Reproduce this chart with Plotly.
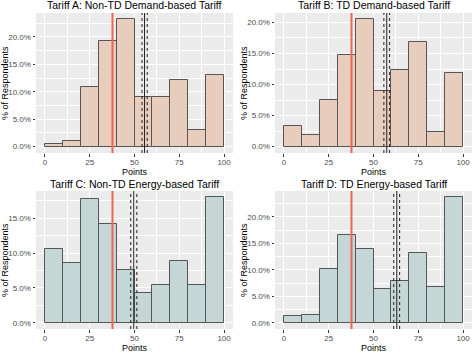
import plotly.graph_objects as go

bin_centers = [5, 15, 25, 35, 45, 55, 65, 75, 85, 95]
titles = ["Tariff A: Non-TD Demand-based Tariff", "Tariff B: TD Demand-based Tariff",
          "Tariff C: Non-TD Energy-based Tariff", "Tariff D: TD Energy-based Tariff"]
pct_a = [0.5, 0.95, 10.8, 19.3, 23.2, 9.1, 9.0, 12.2, 3.0, 13.0]
pct_b = [3.3, 1.8, 7.5, 14.8, 20.5, 9.0, 12.3, 16.9, 2.35, 11.9]
pct_c = [10.6, 8.5, 17.8, 14.2, 7.5, 4.2, 5.4, 8.85, 5.4, 18.0]
pct_d = [1.3, 1.5, 10.2, 16.5, 14.0, 6.4, 7.8, 13.1, 6.8, 23.7]
red_line = [37.7, 37.7, 37.7, 37.7]
mean_line = [55.6, 57.4, 49.6, 63.0]
ci_low = [54.2, 55.8, 47.9, 61.3]
ci_high = [57.1, 59.0, 51.3, 64.6]
fills = ["#E8CDBD", "#E8CDBD", "#C4D7D6", "#C4D7D6"]

series = [pct_a, pct_b, pct_c, pct_d]
W, H = 474, 353
xdoms = [[36/W, 233/W], [275/W, 472/W], [36/W, 233/W], [275/W, 472/W]]
ydoms = [[1-153/H, 1-13/H], [1-153/H, 1-13/H], [1-329/H, 1-191/H], [1-329/H, 1-191/H]]
title_y = [5.5, 5.5, 184.5, 184.5]
ytitle_x = [5, 244, 5, 244]
xtitle_y = [172, 172, 347.5, 347.5]

fig = go.Figure()
font = "Liberation Sans, Arial, sans-serif"
for i in range(4):
    xa = "x" if i == 0 else f"x{i+1}"
    ya = "y" if i == 0 else f"y{i+1}"
    fig.add_trace(go.Bar(x=bin_centers, y=series[i], width=10, xaxis=xa, yaxis=ya,
                         marker=dict(color=fills[i], line=dict(color="#555555", width=1)),
                         showlegend=False))
    ymax = max(series[i])
    suffix = "" if i == 0 else str(i+1)
    axstyle = dict(showgrid=True, gridcolor="white", gridwidth=1.1, zeroline=False,
                   ticks="outside", ticklen=2.5, tickcolor="#333333", showline=False,
                   tickfont=dict(size=8, color="#4D4D4D", family=font))
    fig.layout["xaxis" + suffix] = dict(domain=xdoms[i], anchor=ya, range=[-5, 105],
                                        tickvals=[0, 25, 50, 75, 100], ticklabelstandoff=-1,
                                        minor=dict(tickvals=[12.5, 37.5, 62.5, 87.5], showgrid=True,
                                                   gridcolor="white", gridwidth=0.5, ticks=""),
                                        **axstyle)
    fig.layout["yaxis" + suffix] = dict(domain=ydoms[i], anchor=xa, range=[-0.05*ymax, 1.05*ymax],
                                        dtick=5, tickformat=".1f", ticksuffix="%",
                                        minor=dict(dtick=2.5, tick0=2.5, showgrid=True, gridcolor="white",
                                                   gridwidth=0.5, ticks=""),
                                        **axstyle)
    fig.add_shape(type="line", xref=xa, yref=ya + " domain", x0=red_line[i], x1=red_line[i], y0=0, y1=1,
                  line=dict(color="#EC6652", width=2))
    fig.add_shape(type="line", xref=xa, yref=ya + " domain", x0=mean_line[i], x1=mean_line[i], y0=0, y1=1,
                  line=dict(color="#222222", width=1))
    for v in (ci_low[i], ci_high[i]):
        fig.add_shape(type="line", xref=xa, yref=ya + " domain", x0=v, x1=v, y0=0, y1=1,
                      line=dict(color="#222222", width=1, dash="dot"))
    fig.add_annotation(text=titles[i], xref=xa + " domain", yref="paper", x=0.5, y=1-title_y[i]/H,
                       yanchor="middle", xanchor="center", showarrow=False, borderpad=0,
                       font=dict(size=10.5, color="black", family=font))
    fig.add_annotation(text="% of Respondents", xref="paper", yref=ya + " domain",
                       x=ytitle_x[i]/W, y=0.5, textangle=-90, xanchor="center", yanchor="middle",
                       showarrow=False, borderpad=0, font=dict(size=9, color="black", family=font))
    fig.add_annotation(text="Points", xref=xa + " domain", yref="paper",
                       x=0.5, y=1-xtitle_y[i]/H, xanchor="center", yanchor="middle",
                       showarrow=False, borderpad=0, font=dict(size=9, color="black", family=font))

fig.update_layout(width=W, height=H, margin=dict(l=0, r=0, t=0, b=0),
                  paper_bgcolor="white", plot_bgcolor="#EBEBEB", bargap=0)

fig.write_html("out.html")
